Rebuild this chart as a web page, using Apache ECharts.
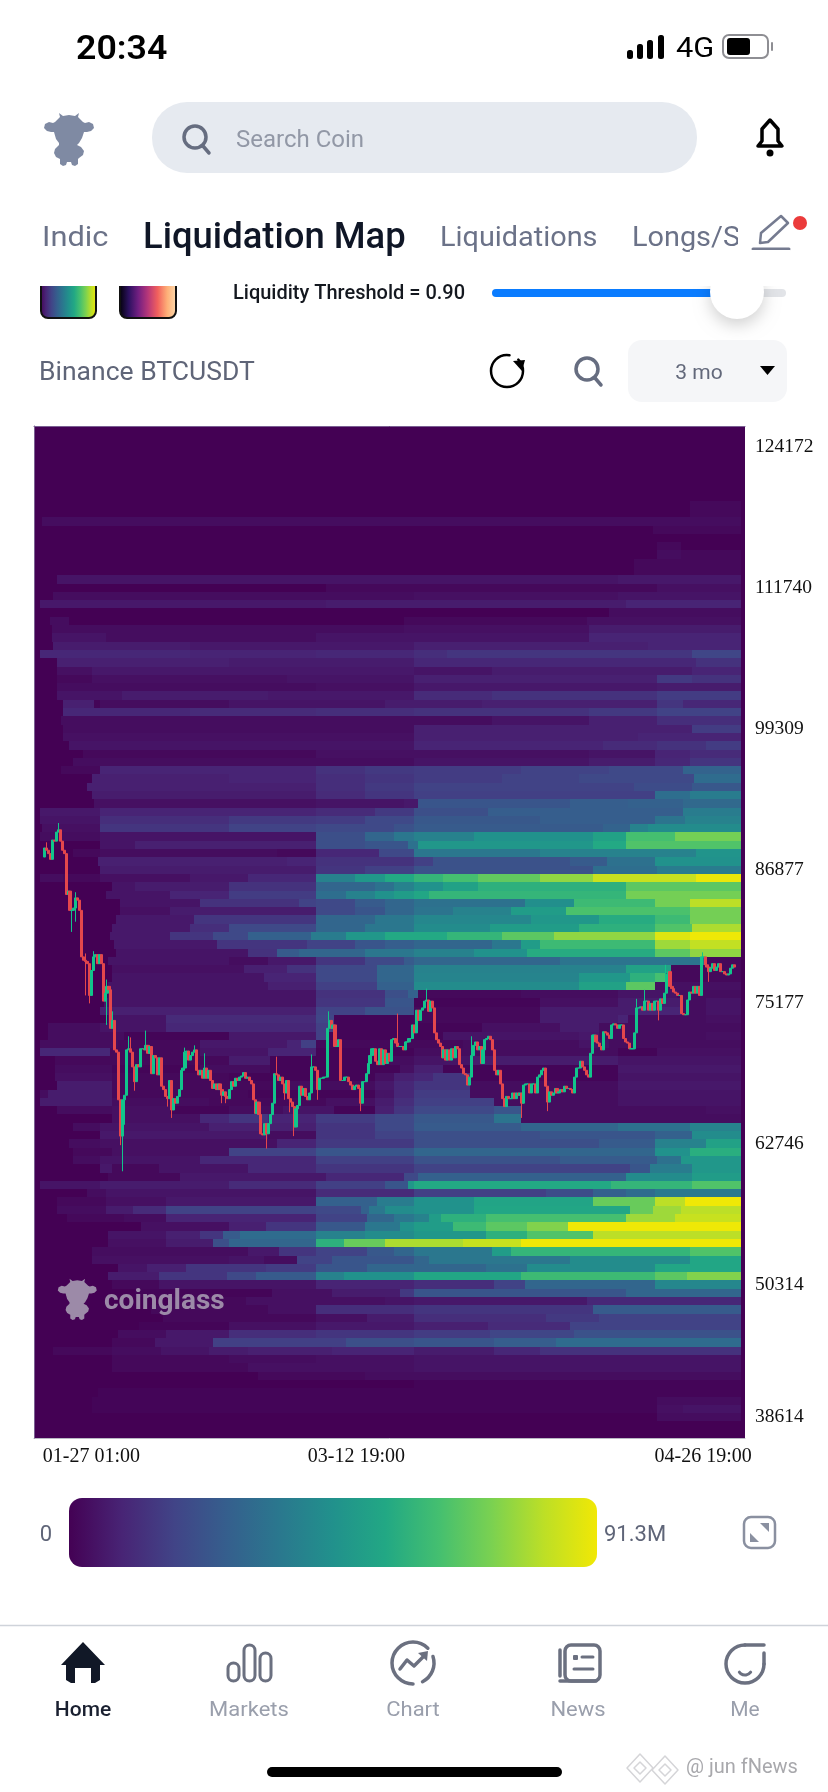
<!DOCTYPE html>
<html>
<head>
<meta charset="utf-8">
<style>html,body{margin:0;padding:0;background:#fff}#c{width:828px;height:1792px}</style>
<script src="https://cdn.jsdelivr.net/npm/echarts@6/dist/echarts.min.js"></script>
</head>
<body>
<div id="c"></div>
<script>
/* tick labels */
const yTickLabels = [38614, 50314, 62746, 75177, 86877, 99309, 111740, 124172];
const yTickRows = [2, 18, 35, 52, 68, 85, 102, 119];
const xTickLabels = ['01-27 01:00', '03-12 19:00', '04-26 19:00'];
const xTickCols = [29, 165, 343];
const colCount = 365, rowCount = 122, lastHeatCol = 362;
const priceAxisMin = 36.786, priceAxisMax = 125.999; /* thousand USD */
const maxLiquidity = 91.3; /* millions */

/* heat rows, top to bottom: pairs of [start column, liquidity in M] */
const heatRuns = [
[0,0],[0,0],[0,0],[0,0],[0,0],[0,0],[0,0],[0,0],[0,0],
[0,0,337,2],[0,0,337,2],[0,0,4,3],[0,0,318,2],[0,0],
[0,0,320,2,332,0],[0,0,320,3,332,2],[0,0,308,2],[0,0,308,2],
[0,0,12,5,300,6],[0,0,150,2,320,4],[0,0,10,3,195,4,300,5],[0,0,3,6,150,7,304,9],[0,0,295,3],
[0,0,8,3,18,0,190,2,284,4],[0,0,9,3,190,4,285,7],[0,0,9,5,37,3,145,5,285,9],[0,0,10,7,80,6,195,8,315,9],
[0,0,3,10,80,9,145,10,195,12,212,14,338,19],[0,0,12,8,100,7,195,10,340,13],[0,0,12,4,30,6,195,5,235,7,338,9],
[0,0,12,2,30,4,130,5,195,8,320,15,338,13],[0,0,12,3,50,3,145,4,195,6,320,7],[0,0,12,5,45,7,120,6,195,11,235,13,320,16],
[0,0,15,8,31,1,34,3,100,5,180,7,230,8,320,14,333,10],[0,0,15,10,80,11,145,12,195,13,285,15,320,18],
[0,0,14,3,195,3,235,5,285,8,320,12],[0,0,15,3,195,8,338,16],[0,0,15,4,195,8,310,9],
[0,0,18,5,195,9,292,11,320,13,345,16],[0,0,25,2,145,4,285,5,319,9,337,11],[0,0,20,3,195,5,285,7,319,10,337,14],
[0,0,14,2,34,9,145,13,170,15,195,16,250,18,295,20,333,29],[0,0,30,8,100,9,145,12,170,14,195,16,240,18,280,20,339,32],[0,0,27,8,145,12,170,15,195,18,308,21,338,25],
[0,0,30,7,145,11,170,14,195,17,319,33,337,38],[0,0,31,4,145,5,190,6,197,24,275,27,305,28,333,31],
[0,0,3,6,34,9,145,11,175,15,195,22,233,27,333,38],[0,0,3,5,34,12,100,15,145,16,170,20,195,25,260,27,319,35,334,40],
[0,0,4,4,34,14,100,18,145,20,185,23,195,26,292,29,306,40,315,44],
[0,0,3,3,34,5,145,22,170,30,185,36,195,40,226,46,287,52,304,64,329,72],
[0,0,34,5,52,8,145,22,170,24,192,34,197,48,287,55,304,66],
[0,0,20,2,34,3,125,2,145,10,177,20,195,36,260,40,340,47],
[0,0,33,8,130,9,145,13,195,17,205,23,275,26,294,34,319,46],
[0,0,34,7,145,14,170,17,195,23,287,33,320,38],
[0,0,3,3,15,2,34,4,80,6,110,10,145,40,165,48,180,55,195,60,210,64,228,69,260,76,287,84,340,90],
[0,0,40,5,52,7,100,13,145,30,175,34,185,40,195,46,210,52,228,58,304,68],
[0,0,37,5,70,9,100,16,145,33,160,40,175,46,185,50,195,54,203,60,304,72],
[0,0,44,5,85,13,136,18,145,20,165,26,180,30,195,34,252,45,277,62,319,72,337,82],
[0,0,44,4,70,7,145,20,165,24,180,30,195,35,215,40,245,50,273,65,337,72],
[0,0,42,6,82,14,145,30,175,36,195,42,255,48,290,56,319,62,337,72],
[0,0,40,6,80,12,100,20,145,30,170,36,195,44,234,50,280,58,319,66,338,80],
[0,0,39,6,70,14,92,20,110,28,142,38,160,48,180,55,212,60,240,68,267,76,319,88,337,91],
[0,0,41,6,94,14,140,18,165,24,180,27,195,30,235,36,250,50,260,62,319,78,337,83],
[0,0,42,5,110,13,125,26,136,30,170,36,195,40,226,46,253,56,319,68,337,76],
[0,0,38,5,100,3,120,6,145,14,170,20,190,26,195,30,270,35,345,2],
[0,0,40,4,108,8,130,13,145,20,176,30,195,40,304,52,327,2],
[0,0,40,5,118,9,145,20,176,30,195,41,280,48,306,58,319,64,324,2],
[0,0,38,5,120,8,145,17,176,28,195,44,280,52,304,68,319,4],
[0,0,38,5,145,13,180,22,192,28,197,2,250,3,300,5,330,3],
[0,0,36,5,145,14,180,24,195,1,260,4,300,7,332,3,345,5],
[0,0,34,8,145,18,170,23,195,2,260,7,309,9,333,3,345,5],
[0,0,38,5,68,11,145,19,154,1,195,2,260,7,300,9,305,3,345,4],
[0,0,7,3,34,5,68,10,145,17,154,1,230,4,270,7,290,3],
[0,0,7,3,30,3,46,1,100,6,145,17,150,1,210,5,280,6,290,3,345,4],
[0,0,3,3,43,2,85,6,130,9,137,17,145,2,220,3,280,5,295,3],
[0,0,3,10,39,2,85,5,120,9,145,1,195,3,300,1,320,4],
[0,0,11,2,100,7,121,1,180,3,195,5,225,7,300,5],
[0,0,11,3,40,1,85,3,121,1,188,4,195,8,210,1,300,6],
[0,0,11,4,40,2,100,1,175,4,185,8,195,10,205,14,224,1,300,5],
[0,0,12,7,40,2,130,3,175,6,185,10,195,14,224,3,300,6],
[0,0,3,3,7,7,40,2,110,1,175,5,185,10,195,16,224,3,300,5],
[0,0,3,7,40,3,90,2,150,4,175,7,185,12,195,17,236,3,300,5],
[0,0,12,3,40,4,70,1,100,3,128,5,154,1,175,8,185,14,195,20,236,24,250,3,345,4],
[0,0,40,4,85,10,100,14,120,9,145,16,175,20,195,25,236,35,250,3],
[0,0,20,3,34,5,90,8,145,14,175,20,195,26,250,30,300,34,337,40],
[0,0,34,6,120,3,145,14,175,18,195,22,260,24,319,28,338,44],
[0,0,18,3,34,4,125,9,145,15,195,22,290,26,319,40,345,52],
[0,0,20,2,40,4,100,18,145,24,195,30,319,46,337,57],
[0,0,20,3,34,5,85,10,145,17,195,23,270,26,320,34,332,48],
[0,0,34,6,40,2,64,5,110,10,145,14,195,18,306,24,316,38,338,48],
[0,0,38,2,75,6,150,10,190,20,197,28,304,44,338,50],
[0,0,3,5,34,7,100,11,145,17,180,24,192,48,195,55,296,60,338,66],
[0,0,27,3,37,5,145,11,195,17,263,21,287,28,304,32,319,37],
[0,0,12,2,37,4,68,6,145,28,176,38,195,46,226,53,287,70,319,82,334,91],
[0,0,12,3,37,7,51,11,68,18,145,20,168,28,172,36,180,44,195,46,226,54,306,70,318,78,332,82],
[0,0,17,2,46,3,68,9,145,18,171,30,185,36,195,40,203,50,209,58,232,64,304,78,329,84],
[0,0,55,4,100,8,119,14,145,25,170,36,188,46,195,50,215,62,232,68,253,74,274,91],
[0,0,38,5,68,8,85,14,97,26,106,32,145,40,170,44,195,48,232,58,253,66,287,82],
[0,0,38,4,68,7,92,22,100,30,145,58,159,70,180,80,220,84,250,91],
[0,0,30,3,110,6,126,14,145,18,171,25,185,30,195,36,235,50,245,60,337,66],
[0,0,30,4,100,5,118,3,135,18,153,24,195,30,203,36,275,44,337,54],
[0,0,43,5,58,8,78,14,119,16,145,24,171,30,232,34,253,44,319,54],
[0,0,38,7,64,14,99,20,114,26,145,40,159,46,195,54,250,62,319,68,335,74],
[0,0,40,2,64,5,145,9,195,12,236,18,252,30,319,42],
[0,0,52,1,122,4,153,7,188,15,195,24,304,30],
[0,0,70,2,109,4,180,5,195,6,284,10],
[0,0,60,2,120,4,145,12,195,14,287,26],
[0,0,66,2,145,4,171,7,195,12,263,15,290,18],
[0,0,54,1,100,4,145,6,195,8,233,11,275,18],
[0,0,43,3,68,6,100,12,145,14,195,16,234,19,277,23],
[0,0,40,2,62,6,92,17,160,22,195,24,236,27,268,32],
[0,0,10,2,40,3,65,5,90,7,110,8,153,9,195,7,236,10,260,13],
[0,0,40,2,100,3,145,4,195,5],
[0,0,40,2,110,4,195,5],
[0,0,115,2,170,3],
[0,0,195,1],
[0,0,33,1],
[0,0,30,1,320,3],
[0,0,30,1,320,4,333,5],
[0,0,320,3],
[0,0],[0,0]
];

/* candles, thousand USD */
const firstCandleCol = 5;
const firstOpen = 88.0;
const closes = [
88.8,88.6,88.3,87.8,89.5,89.4,90.2,90.4,89.4,88.6,88.3,84.7,85.0,83.3,83.3,83.5,84.4,84.2,83.3,79.2,
78.9,78.8,78.6,75.8,78.0,79.2,79.4,78.6,79.4,78.6,75.3,76.0,76.6,76.3,72.9,73.6,71.0,70.8,66.6,63.4,
66.6,67.0,71.0,71.1,70.8,69.5,68.2,69.7,69.5,71.1,71.1,71.0,71.4,70.7,71.3,68.9,70.5,70.3,68.8,70.3,
67.8,67.5,66.9,66.7,68.3,65.7,66.7,66.3,66.9,67.5,69.2,69.4,70.8,70.9,70.1,70.5,70.8,71.0,69.2,68.8,
69.2,68.5,69.4,68.5,69.2,68.3,67.6,68.0,67.5,68.0,67.5,67.0,67.3,66.9,66.7,67.5,68.2,67.8,68.5,68.3,
68.6,68.7,69.0,68.5,68.6,68.3,68.0,66.6,65.4,66.4,65.3,63.6,63.5,64.5,63.6,64.5,65.3,66.3,68.9,68.8,
68.3,68.6,68.0,67.2,68.3,66.7,66.4,66.0,64.2,65.8,66.1,67.8,67.0,67.6,66.9,66.6,67.2,69.5,69.5,69.2,
67.5,68.5,68.5,68.6,68.6,72.9,73.6,72.9,73.2,71.3,71.3,71.9,68.3,68.3,68.6,68.6,68.2,67.9,67.5,67.8,
67.9,67.6,66.3,68.2,68.2,68.9,69.8,70.5,71.1,71.1,70.0,69.7,71.1,69.7,71.0,69.8,70.7,70.0,71.9,72.0,
71.6,71.3,71.3,71.3,71.0,71.7,71.7,72.0,72.0,73.2,72.5,74.5,73.6,74.5,74.7,75.3,75.4,74.4,75.3,74.7,
72.5,71.9,71.6,71.3,70.3,71.0,70.1,71.0,70.1,71.1,70.3,71.3,71.1,69.7,69.4,68.9,68.8,67.9,68.6,70.5,
71.4,71.7,71.0,71.3,69.8,71.0,71.9,72.0,72.2,71.9,71.0,69.2,68.8,69.2,68.0,66.7,66.0,66.9,66.7,66.7,
67.2,66.7,67.2,67.0,67.2,66.3,67.9,68.0,68.0,67.2,68.0,68.0,67.2,68.6,68.8,69.2,69.4,67.8,66.4,67.3,
67.0,67.2,67.6,67.2,67.3,67.5,67.3,67.8,67.6,67.6,67.5,67.2,68.6,69.4,69.4,70.0,69.5,69.2,68.8,68.6,
70.7,72.3,72.3,71.7,71.6,71.3,71.0,72.6,72.5,72.3,72.0,73.2,73.3,73.2,72.9,73.2,73.2,72.0,71.7,71.6,
71.1,71.1,71.1,72.5,74.7,74.7,74.8,74.5,75.3,75.3,74.5,75.1,74.5,75.3,75.3,74.5,75.5,75.1,76.0,77.7,
77.9,76.6,76.4,76.1,76.0,75.8,75.8,74.2,74.1,74.1,75.4,76.1,76.0,76.6,76.0,76.6,75.8,79.2,79.2,78.5,
78.3,77.9,78.2,78.6,78.0,78.3,78.6,77.9,77.9,77.7,77.6,77.7,78.2,78.5,78.3
];
/* visible wicks only: column -> price */
const wickHighs = {6:89.3,12:91.0,21:84.9,26:79.5,30:79.7,37:77.2,40:74.4,48:72.2,49:72.1,57:72.7,77:71.2,82:71.4,87:70.7,124:70.4,142:70.6,151:74.4,186:74.2,201:76.4,224:72.2,309:75.5,313:76.3,324:78.5,343:79.6};
const wickLows = {19:81.4,21:82.3,26:75.8,28:75.1,37:73.2,44:62.6,45:60.3,46:64.4,51:67.4,68:66.0,70:65.0,96:66.3,98:66.3,119:62.3,128:66.6,131:65.5,133:63.4,145:66.6,167:65.6,250:65.0,263:65.6,320:73.6,346:77.0};

const viridis = ['#440154','#482475','#414487','#355f8d','#2a788e','#21918c','#22a884','#44bf70','#7ad151','#bddf26','#f1e805'];
const magma = ['#000004','#2c115f','#721f81','#b73779','#f1605d','#feb078','#fcdcb0'];

/* build data: one [startCol, endCol, row, value] per run */
const heatCells = [];
heatRuns.forEach((runs, r) => {
  for (let k = 0; k < runs.length; k += 2) {
    const end = k + 2 < runs.length ? runs[k + 2] - 1 : lastHeatCol;
    heatCells.push([runs[k], end, rowCount - 1 - r, runs[k + 1]]);
  }
});
const candleData = [];
for (let c = 0; c < colCount; c++) {
  const i = c - firstCandleCol;
  if (i < 0 || i >= closes.length) { candleData.push(['-','-','-','-']); continue; }
  const o = i === 0 ? firstOpen : closes[i - 1], cl = closes[i];
  const lo = wickLows[c] !== undefined ? wickLows[c] : Math.min(o, cl);
  const hi = wickHighs[c] !== undefined ? wickHighs[c] : Math.max(o, cl);
  candleData.push([o, cl, lo, hi]);
}
const rowCats = Array.from({length: rowCount}, (_, i) => { const k = yTickRows.indexOf(i); return k >= 0 ? String(yTickLabels[k]) : 'r' + i; });
const colCats = Array.from({length: colCount}, (_, i) => { const k = xTickCols.indexOf(i); return k >= 0 ? xTickLabels[k] : 'c' + i; });

/* page chrome */
const el = [];
const Z = 100;
const SANS = 'Roboto, "Noto Sans", sans-serif';
function T(text, x, y, size, fill, weight, align, sx) {
  el.push({type:'text', z:Z, x:x, y:y+2, scaleX:sx||1, style:{text:text, x:0, y:0, fill:fill, textAlign:align||'left', textVerticalAlign:'middle', font:(weight||400)+' '+size+'px '+SANS}});
}
function R(x, y, w, h, r, fill, stroke, lw) {
  el.push({type:'rect', z:Z, shape:{x:x,y:y,width:w,height:h,r:r}, style:{fill:fill||'none', stroke:stroke||'none', lineWidth:lw||0}});
}
function C(cx, cy, r, fill, stroke, lw) {
  el.push({type:'circle', z:Z, shape:{cx:cx,cy:cy,r:r}, style:{fill:fill||'none', stroke:stroke||'none', lineWidth:lw||0}});
}
function L(x1,y1,x2,y2,stroke,lw) {
  el.push({type:'line', z:Z, shape:{x1:x1,y1:y1,x2:x2,y2:y2}, style:{stroke:stroke, lineWidth:lw, lineCap:'round'}});
}
function P(points, fill, stroke, lw) {
  el.push({type:'polygon', z:Z, shape:{points:points}, style:{fill:fill||'none', stroke:stroke||'none', lineWidth:lw||0, lineJoin:'round'}});
}
function PL(points, stroke, lw, smooth) {
  el.push({type:'polyline', z:Z, shape:{points:points, smooth:smooth||0}, style:{fill:'none', stroke:stroke, lineWidth:lw, lineJoin:'round', lineCap:'round'}});
}
function A(cx,cy,r,s,e,stroke,lw) {
  el.push({type:'arc', z:Z, shape:{cx:cx,cy:cy,r:r,startAngle:s,endAngle:e,clockwise:true}, style:{fill:'none', stroke:stroke, lineWidth:lw, lineCap:'round'}});
}
function grad(stops) {
  return {type:'linear',x:0,y:0,x2:1,y2:0,colorStops:stops.map((c,i)=>({offset:i/(stops.length-1),color:c}))};
}
const cowShape = [[17,5],[16,1],[20,4],[26,3],[32,4],[36,1],[35,5],[40,10],[42,11],[46,10],[50,12],[51,16],[48,19],[44,20],[41,20],[39,26],[36,31],[34,33],[38,35],[41,39],[40,43],[36,46],[35,47],[35,52],[32,54],[29,53],[28,50],[24,50],[23,53],[20,54],[17,52],[17,47],[13,45],[11,41],[12,37],[16,33],[16,31],[13,27],[11,20],[8,20],[4,19],[1,16],[2,12],[6,10],[10,11],[12,10]];
function cow(x, y, s, fill) { P(cowShape.map(p=>[x+p[0]*s, y+p[1]*s]), fill); }

// status bar
T('20:34', 76, 48, 34, '#000', 600, 'left', 1.05);
[[627,50,6,9],[637,44,6,15],[647,40,6,19],[658,35,6,24]].forEach(b=>R(b[0],b[1],b[2],b[3],2.5,'#000'));
T('4G', 676, 48, 28, '#000', 400, 'left', 1.1);
R(723,35,45,23,6,'#fff','#8e8e93',2); R(727,38,23,17,3,'#000'); R(771,42,2,9,1,'#8e8e93');
// header
cow(43,112,1,'#7f8aa3');
R(152,102,545,71,35,'#e6eaf0');
C(195,137,11,null,'#666d80',3.5); L(203,146,209,153,'#666d80',3.5);
T('Search Coin', 236, 139, 24, '#9298a6', 400);
PL([[758,146],[762,141],[762,129],[770,120],[778,129],[778,141],[782,146],[758,146]],'#000',3.5);
C(770,153,3.5,'#000');
// tabs
T('Indic', 42, 237, 28, '#6b7288', 400, 'left', 1.1);
T('Liquidation Map', 143, 237, 36, '#0f1626', 500, 'left', 1.012);
T('Liquidations', 440, 237, 28, '#6b7288', 400, 'left', 1.03);
T('Longs/Shorts', 632, 237, 28, '#6b7288', 400, 'left', 1.03);
R(738,200,90,60,0,'#fff');
P([[760,243],[761,233],[781,216],[788,223],[768,242]],null,'#757b90',2.5);
L(753,249,789,249,'#757b90',3);
C(800,223,7,'#eb3b3b');
// swatches + slider
R(41,278,55,40,7,grad(viridis),'#111',2);
R(120,278,56,40,7,grad(magma),'#111',2);
R(30,260,160,26,0,'#fff');
T('Liquidity Threshold = 0.90', 233, 292, 20, '#14181f', 500);
R(700,289,86,8,4,'#e2e4e8');
R(492,289,228,8,4,'#0a7cff');
el.push({type:'circle', z:Z, shape:{cx:737,cy:292,r:27}, style:{fill:'#fff', shadowBlur:16, shadowColor:'rgba(0,0,0,.18)', shadowOffsetY:6}});
R(690,250,100,36,0,'#fff');
// source row
T('Binance BTCUSDT', 39, 372, 25, '#5f6578', 400, 'left', 1.06);
A(507,371,16,-0.25*Math.PI,1.55*Math.PI,'#000',2.5);
P([[513,361],[525,360],[522,371]],'#000');
C(587,369,11,null,'#666d80',3.5); L(595,378,601,385,'#666d80',3.5);
R(628,340,159,62,14,'#f5f6f8');
T('3 mo', 699, 372, 21, '#62687a', 400, 'center');
P([[760,366],[775,366],[767.5,375]],'#000');
// frame of the plot
L(34.5,426,34.5,1438,'#7a5f92',1);
L(34,426.5,745,426.5,'#7a5f92',1);
// watermark on chart
cow(57,1278,.78,'#9c8aa8');
T('coinglass', 104, 1300, 28, '#9c8aa8', 700);
// colour bar
T('0', 46, 1533, 22, '#5f6578', 400, 'center');
R(69,1498,528,69,13,grad(viridis));
T('91.3M', 604, 1533, 22, '#5f6578', 400);
R(744,1517,31,31,7,null,'#8a90a0',2.5);
P([[760,1523],[769,1523],[769,1532]],'#8a90a0'); P([[750,1533],[750,1542],[759,1542]],'#8a90a0');
// bottom nav
L(0,1625.5,828,1625.5,'#cfd3da',1.5);
P([[83,1642],[105,1665],[100,1665],[100,1680],[95,1683],[91,1683],[91,1668],[75,1668],[75,1683],[71,1683],[66,1680],[66,1665],[61,1665]],'#111827');
R(228,1663,11,18,5.5,null,'#6b7080',3); R(244,1645,11,36,5.5,null,'#6b7080',3); R(260,1653,11,28,5.5,null,'#6b7080',3);
A(413,1663,21,-0.1*Math.PI,0.35*Math.PI,'#6b7080',3.5);
A(413,1663,21,0.5*Math.PI,1.75*Math.PI,'#6b7080',3.5);
PL([[400,1669],[407,1660],[414,1666],[425,1655]],'#6b7080',3.5);
P([[418,1653],[428,1651],[427,1661]],'#6b7080');
R(565,1645,35,36,6,null,'#6b7080',3.5); L(560,1650,560,1676,'#6b7080',3.5); L(560,1681,596,1681,'#6b7080',3.5);
R(573,1655,5,5,1,'#6b7080'); L(582,1657,593,1657,'#6b7080',3); L(574,1669,593,1669,'#6b7080',3);
A(745,1664,19,0,1.5*Math.PI,'#6b7080',3.5);
L(745,1645,764,1645,'#6b7080',3.5); L(764,1653,764,1664,'#6b7080',3.5);
A(745,1668,7,0.2*Math.PI,0.8*Math.PI,'#6b7080',3);
T('Home', 83, 1709, 20, '#1a2030', 500, 'center', 1.05);
T('Markets', 249, 1709, 20, '#9a9fac', 400, 'center', 1.1);
T('Chart', 413, 1709, 20, '#9a9fac', 400, 'center', 1.1);
T('News', 578, 1709, 20, '#9a9fac', 400, 'center', 1.1);
T('Me', 745, 1709, 20, '#9a9fac', 400, 'center', 1.05);
R(267,1767,295,10,5,'#000');
// image credit
[[640,1768],[665,1770]].forEach(d=>{P([[d[0],d[1]-14],[d[0]+13,d[1]],[d[0],d[1]+14],[d[0]-13,d[1]]],'#fff','#d5d5d8',1.5);P([[d[0],d[1]-6],[d[0]+6,d[1]],[d[0],d[1]+6],[d[0]-6,d[1]]],null,'#d5d5d8',1.5);});
T('@ jun fNews', 686, 1766, 20, '#a8a8ac', 400);

function renderRun(params, api) {
  const a = api.coord([api.value(0), api.value(2)]);
  const b = api.coord([api.value(1), api.value(2)]);
  const size = api.size([1, 1]);
  const x0 = Math.round(a[0] - size[0] / 2), x1 = Math.round(b[0] + size[0] / 2);
  const y0 = Math.round(a[1] - size[1] / 2), y1 = Math.round(a[1] + size[1] / 2);
  return {type:'rect', shape:{x:x0, y:y0, width:x1 - x0, height:y1 - y0}, style:{fill:api.visual('color')}};
}

const chart = echarts.init(document.getElementById('c'), null, {renderer:'canvas', width:828, height:1792});
chart.setOption({
  animation:false,
  backgroundColor:'#fff',
  grid:{left:34, top:426, width:711, height:1012, containLabel:false, show:true, backgroundColor:'#440154', borderWidth:0},
  xAxis:{type:'category', data:colCats, boundaryGap:true, position:'bottom',
    axisLine:{show:true, lineStyle:{color:'#b9b9c4', width:1}}, axisTick:{show:false}, splitLine:{show:false},
    axisLabel:{show:true, interval:(i)=>xTickCols.includes(i), hideOverlap:false, margin:9,
      fontFamily:'"Liberation Serif", serif', fontSize:20, color:'#111'}},
  yAxis:[
    {type:'category', data:rowCats, position:'right', boundaryGap:true,
      axisLine:{show:false}, axisTick:{show:false}, splitLine:{show:false},
      axisLabel:{show:true, interval:(i)=>yTickRows.includes(i), hideOverlap:false, margin:10,
        fontFamily:'"Liberation Serif", serif', fontSize:19.5, color:'#111'}},
    {type:'value', show:false, min:priceAxisMin, max:priceAxisMax, splitLine:{show:false}}
  ],
  visualMap:{show:false, type:'continuous', min:0, max:maxLiquidity, seriesIndex:0, dimension:3, inRange:{color:viridis}},
  series:[
    {type:'custom', data:heatCells, xAxisIndex:0, yAxisIndex:0, encode:{x:[0,1], y:2}, dimensions:['from','to','row','liquidity'], renderItem:renderRun, silent:true, clip:true},
    {type:'candlestick', data:candleData, xAxisIndex:0, yAxisIndex:1, barWidth:2.6, progressive:0, silent:true,
      itemStyle:{color:'#12c48b', color0:'#e4474c', borderColor:'#12c48b', borderColor0:'#e4474c', borderWidth:1}}
  ],
  graphic:{elements:el}
});
</script>
</body>
</html>
